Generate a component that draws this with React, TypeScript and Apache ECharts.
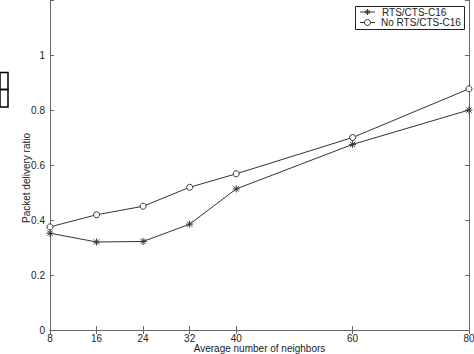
import React, { useEffect, useRef } from "react";
import * as echarts from "echarts";

const neighbors = [8, 16, 24, 32, 40, 60, 80];
const rtsCts = [0.352, 0.32, 0.322, 0.385, 0.513, 0.675, 0.8];
const noRtsCts = [0.375, 0.419, 0.45, 0.519, 0.568, 0.7, 0.877];
const xTicks = [8, 16, 24, 32, 40, 60, 80];
const seriesNames = ["RTS/CTS-C16", "No RTS/CTS-C16"];

const STAR = "path://M0,-1L0,1M-1,0L1,0M-0.75,-0.75L0.75,0.75M-0.75,0.75L0.75,-0.75";
const FONT = "Liberation Sans";
const AXIS = "#666";
const LINE = "#333";

function starLines(cx: number, cy: number, r: number) {
  const d = r * 0.75;
  const seg = (x1: number, y1: number, x2: number, y2: number) => ({
    type: "line",
    shape: { x1: cx + x1, y1: cy + y1, x2: cx + x2, y2: cy + y2 },
    style: { stroke: LINE, lineWidth: 1 },
  });
  return [seg(0, -r, 0, r), seg(-r, 0, r, 0), seg(-d, -d, d, d), seg(-d, d, d, -d)];
}

export default function App() {
  const ref = useRef<HTMLDivElement>(null);
  useEffect(() => {
    if (!ref.current) return;
    const chart = echarts.init(ref.current, null, { renderer: "svg" });
    const axisCommon = {
      axisLine: { lineStyle: { color: AXIS, width: 1 } },
      splitLine: { show: false },
    };
    const lx = 355, ly = 6, lw = 109, lh = 23;
    const rows = [12, 22.5];
    chart.setOption({
      animation: false,
      backgroundColor: "#fff",
      textStyle: { fontFamily: FONT },
      grid: { left: 50, right: 5, top: 0, bottom: 24, containLabel: false, outerBoundsMode: "none" },
      xAxis: [
        {
          type: "value",
          min: 8,
          max: 80,
          position: "bottom",
          ...axisCommon,
          axisTick: { inside: true, length: 4, customValues: xTicks, lineStyle: { color: AXIS } },
          axisLabel: { customValues: xTicks, fontSize: 10, lineHeight: 10, color: "#222", margin: 3, fontFamily: FONT },
        },
        {
          type: "value",
          min: 8,
          max: 80,
          position: "top",
          ...axisCommon,
          axisTick: { inside: true, length: 4, customValues: xTicks, lineStyle: { color: AXIS } },
          axisLabel: { show: false },
        },
      ],
      yAxis: [
        {
          type: "value",
          min: 0,
          max: 1.2,
          interval: 0.2,
          position: "left",
          ...axisCommon,
          axisTick: { inside: true, length: 4, lineStyle: { color: AXIS } },
          axisLabel: {
            fontSize: 10,
            color: "#222",
            margin: 5,
            fontFamily: FONT,
            formatter: (v: number) => (v > 1.05 ? "" : String(Math.round(v * 10) / 10)),
          },
        },
        {
          type: "value",
          min: 0,
          max: 1.2,
          interval: 0.2,
          position: "right",
          ...axisCommon,
          axisTick: { inside: true, length: 4, lineStyle: { color: AXIS } },
          axisLabel: { show: false },
        },
      ],
      series: [
        {
          name: seriesNames[0],
          type: "line",
          data: neighbors.map((x, i) => [x, rtsCts[i]]),
          symbol: STAR,
          symbolSize: 7,
          lineStyle: { color: LINE, width: 1 },
          itemStyle: { color: LINE, borderColor: LINE, borderWidth: 1 },
        },
        {
          name: seriesNames[1],
          type: "line",
          data: neighbors.map((x, i) => [x, noRtsCts[i]]),
          symbol: "circle",
          symbolSize: 6,
          lineStyle: { color: LINE, width: 1 },
          itemStyle: { color: "#fff", borderColor: LINE, borderWidth: 1 },
        },
      ],
      graphic: [
        {
          type: "text",
          x: 26,
          y: 178,
          rotation: Math.PI / 2,
          style: {
            text: "Packet delivery ratio",
            fontSize: 10,
            fill: "#222",
            fontFamily: FONT,
            align: "center",
            verticalAlign: "middle",
          },
        },
        {
          type: "text",
          x: 259.5,
          y: 348,
          style: {
            text: "Average number of neighbors",
            fontSize: 10,
            lineHeight: 10,
            fill: "#222",
            fontFamily: FONT,
            align: "center",
            verticalAlign: "middle",
          },
        },
        { type: "rect", shape: { x: 0, y: 72.5, width: 8, height: 17 }, style: { fill: "none", stroke: "#000", lineWidth: 1.5 } },
        { type: "rect", shape: { x: 0, y: 89.5, width: 8, height: 17.5 }, style: { fill: "none", stroke: "#000", lineWidth: 1.5 } },
        {
          type: "group",
          z: 100,
          children: [
            { type: "rect", shape: { x: lx + 0.5, y: ly + 0.5, width: lw, height: lh }, style: { fill: "#fff", stroke: "#222", lineWidth: 1 } },
            { type: "line", shape: { x1: 360, y1: rows[0], x2: 375, y2: rows[0] }, style: { stroke: LINE, lineWidth: 1 } },
            ...starLines(367.5, rows[0], 3),
            { type: "text", x: 382, y: rows[0], style: { text: seriesNames[0], fontSize: 10, fill: "#222", fontFamily: FONT, verticalAlign: "middle" } },
            { type: "line", shape: { x1: 360, y1: rows[1], x2: 375, y2: rows[1] }, style: { stroke: LINE, lineWidth: 1 } },
            { type: "circle", shape: { cx: 367.5, cy: rows[1], r: 3 }, style: { fill: "#fff", stroke: LINE, lineWidth: 1 } },
            { type: "text", x: 381, y: rows[1], style: { text: seriesNames[1], fontSize: 10, fill: "#222", fontFamily: FONT, verticalAlign: "middle" } },
          ],
        },
      ],
    });
    return () => chart.dispose();
  }, []);
  return <div ref={ref} style={{ position: "absolute", left: 0, top: 0, width: 474, height: 354 }} />;
}
